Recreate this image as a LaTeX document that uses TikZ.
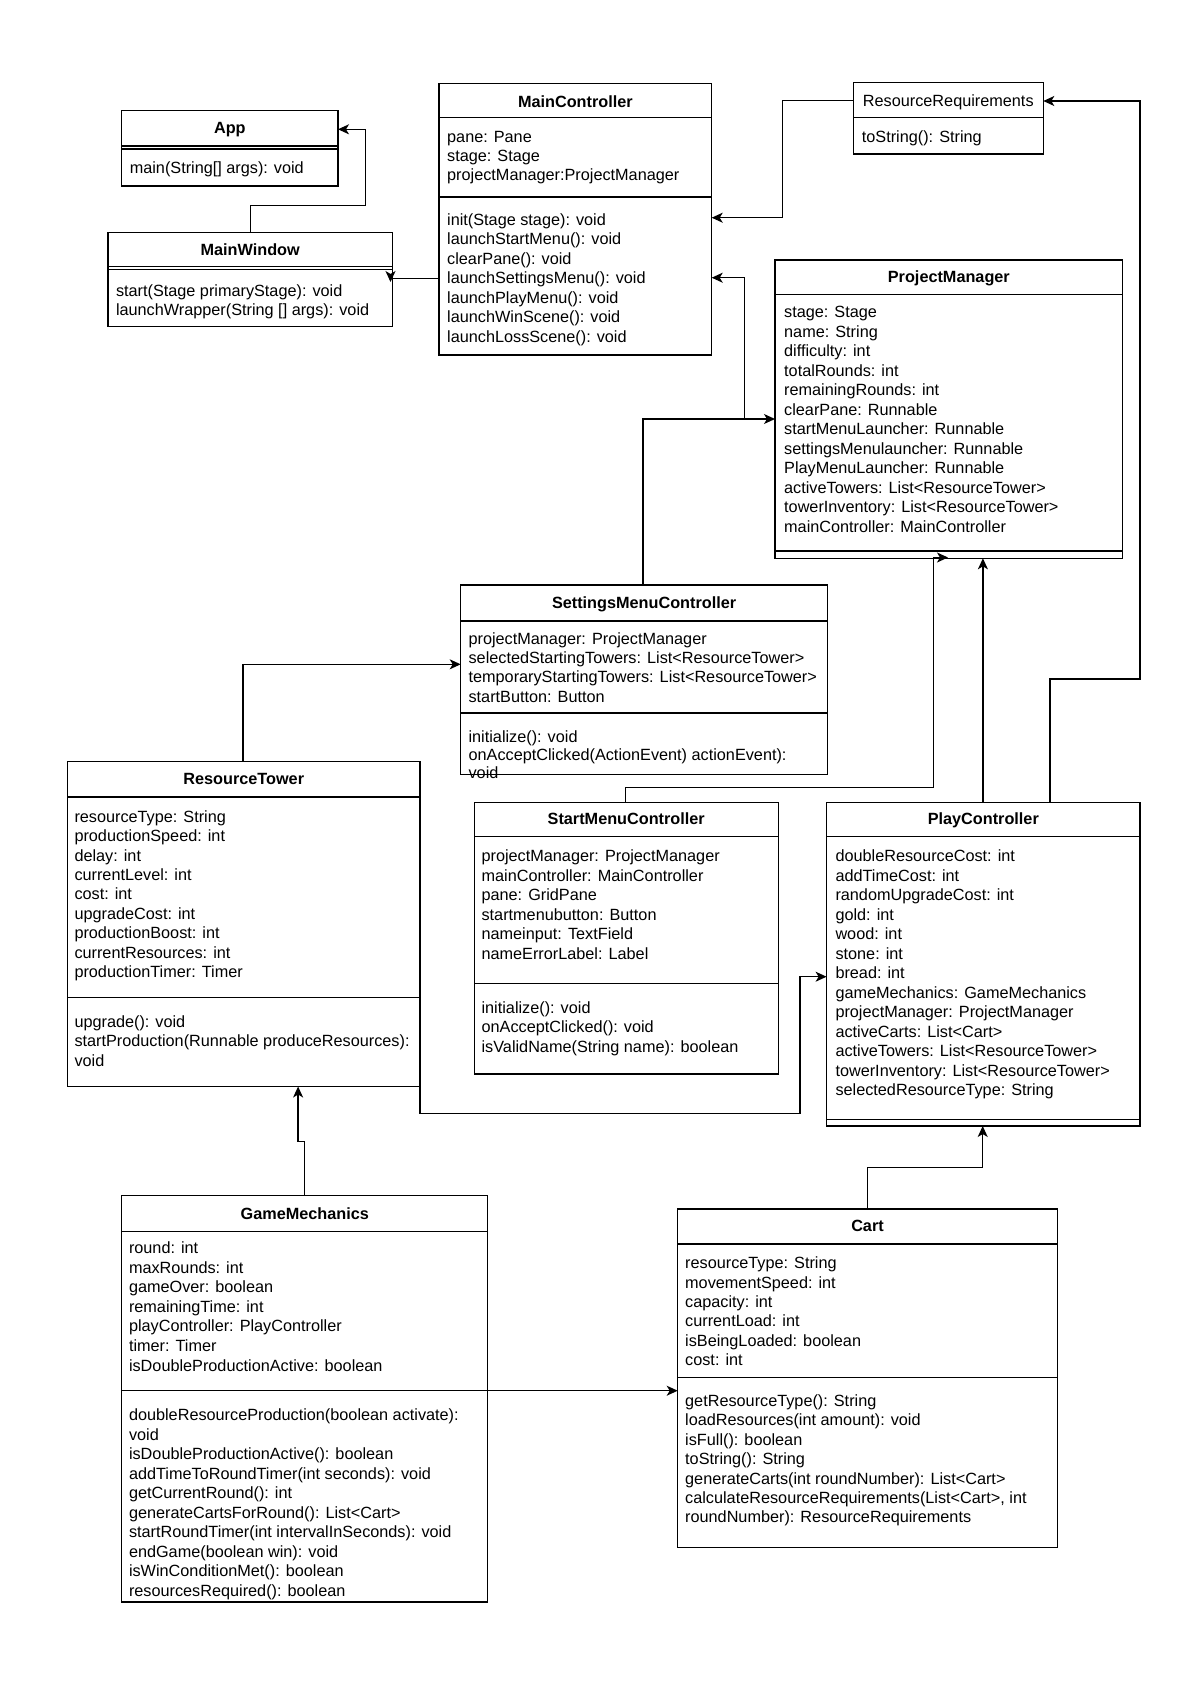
\documentclass[tikz,border=0pt]{standalone}
\usepackage{fontspec}
\setmainfont{Liberation Sans}
\usetikzlibrary{arrows.meta,fit}
\newcommand\umlfont{\fontsize{16.25}{19.5}\selectfont}
\tikzset{
  boxst/.style={draw, line width=1.2pt, fill=white, inner sep=0pt, outer sep=0pt},
  sepline/.style={line width=1.2pt},
  txt/.style={inner sep=0pt, anchor=base west, font=\umlfont},
  ttl/.style={inner sep=0pt, anchor=base, font=\umlfont\bfseries},
  ttlplain/.style={inner sep=0pt, anchor=base, font=\umlfont},
  conn/.style={line width=1.3pt, -{Stealth[length=11pt,width=10pt,inset=3pt]}}
}
% x, first baseline, spacing, name prefix, list of lines
\newcommand\umllines[5]{%
  \foreach \thisline [count=\i from 0] in {#5} {%
    \node[txt] (#4-\i) at (#1, {#2+\i*#3}) {\thisline};}}
\begin{document}
\begin{tikzpicture}[x=1pt,y=-1pt]
\useasboundingbox[fill=white] (0,0) rectangle (1200,1698);

% ---------- App ----------
\node[boxst, fit={(121.7,110.7) (338,186)}] (app) {};
\draw[sepline] (app.west |- 0,146) -- (app.east |- 0,146);
\draw[sepline] (app.west |- 0,148.9) -- (app.east |- 0,148.9);
\node[ttl] (appT) at (app.north |- 0,133.8) {App};
\umllines{129.6}{173.8}{19.5}{appM}{{main(String[] args): void}}

% ---------- MainWindow ----------
\node[boxst, fit={(107.9,232.3) (392.5,326.7)}] (mw) {};
\draw[sepline] (mw.west |- 0,266.7) -- (mw.east |- 0,266.7);
\draw[sepline] (mw.west |- 0,269.6) -- (mw.east |- 0,269.6);
\node[ttl] (mwT) at (mw.north |- 0,255.8) {MainWindow};
\umllines{115.8}{296.5}{18.5}{mwM}{{start(Stage primaryStage): void},{launchWrapper(String [] args): void}}

% ---------- MainController ----------
\node[boxst, fit={(439,83.3) (711.7,355)}] (mc) {};
\draw[sepline] (mc.west |- 0,117.7) -- (mc.east |- 0,117.7);
\draw[sepline] (mc.west |- 0,197) -- (mc.east |- 0,197);
\node[ttl] (mcT) at (mc.north |- 0,107.2) {MainController};
\umllines{447}{142.2}{19.3}{mcA}{{pane: Pane},{stage: Stage},{projectManager:ProjectManager}}
\umllines{447}{225.5}{19.45}{mcM}{{init(Stage stage): void},{launchStartMenu(): void},{clearPane(): void},{launchSettingsMenu(): void},{launchPlayMenu(): void},{launchWinScene(): void},{launchLossScene(): void}}

% ---------- ResourceRequirements ----------
\node[boxst, fit={(853.3,82.7) (1043.3,154)}] (rr) {};
\draw[sepline] (rr.west |- 0,117.7) -- (rr.east |- 0,117.7);
\node[ttlplain] (rrT) at (rr.north |- 0,106.2) {ResourceRequirements};
\umllines{861.7}{142.2}{19.5}{rrM}{{toString(): String}}

% ---------- ProjectManager ----------
\node[boxst, fit={(775,260) (1122.7,558.3)}] (pm) {};
\draw[sepline] (pm.west |- 0,294.3) -- (pm.east |- 0,294.3);
\draw[sepline] (pm.west |- 0,551) -- (pm.east |- 0,551);
\node[ttl] (pmT) at (pm.north |- 0,282.8) {ProjectManager};
\umllines{784}{317.8}{19.5}{pmA}{{stage: Stage},{name: String},{difficulty: int},{totalRounds: int},{remainingRounds: int},{clearPane: Runnable},{startMenuLauncher: Runnable},{settingsMenulauncher: Runnable},{PlayMenuLauncher: Runnable},{activeTowers: List<ResourceTower>},{towerInventory: List<ResourceTower>},{mainController: MainController}}

% ---------- SettingsMenuController ----------
\node[boxst, fit={(460.7,585) (827.5,774.3)}] (sm) {};
\draw[sepline] (sm.west |- 0,621) -- (sm.east |- 0,621);
\draw[sepline] (sm.west |- 0,713) -- (sm.east |- 0,713);
\node[ttl] (smT) at (sm.north |- 0,608.8) {SettingsMenuController};
\umllines{468.4}{644.5}{19.2}{smA}{{projectManager: ProjectManager},{selectedStartingTowers: List<ResourceTower>},{temporaryStartingTowers: List<ResourceTower>},{startButton: Button}}
\umllines{468.4}{742.2}{18.3}{smM}{{initialize(): void},{onAcceptClicked(ActionEvent) actionEvent):},{void}}

% ---------- ResourceTower ----------
\node[boxst, fit={(67.5,761.7) (420,1086.5)}] (rt) {};
\draw[sepline] (rt.west |- 0,797) -- (rt.east |- 0,797);
\draw[sepline] (rt.west |- 0,997.7) -- (rt.east |- 0,997.7);
\node[ttl] (rtT) at (rt.north |- 0,784.5) {ResourceTower};
\umllines{74.3}{822.2}{19.4}{rtA}{{resourceType: String},{productionSpeed: int},{delay: int},{currentLevel: int},{cost: int},{upgradeCost: int},{productionBoost: int},{currentResources: int},{productionTimer: Timer}}
\umllines{74.3}{1027.2}{19.6}{rtM}{{upgrade(): void},{startProduction(Runnable produceResources):},{void}}

% ---------- StartMenuController ----------
\node[boxst, fit={(474.2,802.3) (778.3,1074)}] (smc) {};
\draw[sepline] (smc.west |- 0,836.7) -- (smc.east |- 0,836.7);
\draw[sepline] (smc.west |- 0,983.3) -- (smc.east |- 0,983.3);
\node[ttl] (smcT) at (smc.north |- 0,824.8) {StartMenuController};
\umllines{481.4}{861.5}{19.5}{smcA}{{projectManager: ProjectManager},{mainController: MainController},{pane: GridPane},{startmenubutton: Button},{nameinput: TextField},{nameErrorLabel: Label}}
\umllines{481.4}{1013.2}{19.5}{smcM}{{initialize(): void},{onAcceptClicked(): void},{isValidName(String name): boolean}}

% ---------- PlayController ----------
\node[boxst, fit={(826.6,802.3) (1140,1126)}] (pc) {};
\draw[sepline] (pc.west |- 0,836.7) -- (pc.east |- 0,836.7);
\draw[sepline] (pc.west |- 0,1119.5) -- (pc.east |- 0,1119.5);
\node[ttl] (pcT) at (pc.north |- 0,824.8) {PlayController};
\umllines{835.3}{861.5}{19.5}{pcA}{{doubleResourceCost: int},{addTimeCost: int},{randomUpgradeCost: int},{gold: int},{wood: int},{stone: int},{bread: int},{gameMechanics: GameMechanics},{projectManager: ProjectManager},{activeCarts: List<Cart>},{activeTowers: List<ResourceTower>},{towerInventory: List<ResourceTower>},{selectedResourceType: String}}

% ---------- GameMechanics ----------
\node[boxst, fit={(121.8,1195.4) (487.8,1602)}] (gm) {};
\draw[sepline] (gm.west |- 0,1231.8) -- (gm.east |- 0,1231.8);
\draw[sepline] (gm.west |- 0,1390.7) -- (gm.east |- 0,1390.7);
\node[ttl] (gmT) at (gm.north |- 0,1219.4) {GameMechanics};
\umllines{128.8}{1253.4}{19.6}{gmA}{{round: int},{maxRounds: int},{gameOver: boolean},{remainingTime: int},{playController: PlayController},{timer: Timer},{isDoubleProductionActive: boolean}}
\umllines{128.8}{1420.5}{19.5}{gmM}{{doubleResourceProduction(boolean activate):},{void},{isDoubleProductionActive(): boolean},{addTimeToRoundTimer(int seconds): void},{getCurrentRound(): int},{generateCartsForRound(): List<Cart>},{startRoundTimer(int intervalInSeconds): void},{endGame(boolean win): void},{isWinConditionMet(): boolean},{resourcesRequired(): boolean}}

% ---------- Cart ----------
\node[boxst, fit={(677.7,1209) (1057.3,1547.7)}] (cart) {};
\draw[sepline] (cart.west |- 0,1244) -- (cart.east |- 0,1244);
\draw[sepline] (cart.west |- 0,1377.7) -- (cart.east |- 0,1377.7);
\node[ttl] (cartT) at (cart.north |- 0,1231.5) {Cart};
\umllines{685}{1268.8}{19.3}{cartA}{{resourceType: String},{movementSpeed: int},{capacity: int},{currentLoad: int},{isBeingLoaded: boolean},{cost: int}}
\umllines{685}{1406.5}{19.4}{cartM}{{getResourceType(): String},{loadResources(int amount): void},{isFull(): boolean},{toString(): String},{generateCarts(int roundNumber): List<Cart>},{calculateResourceRequirements(List<Cart>, int},{roundNumber): ResourceRequirements}}

% ---------- connectors ----------
\draw[conn] (mw.north -| 250.2,0) |- (365.6,205.3) |- (app.east |- 0,129.3);
\draw[conn] (mc.west |- 0,278.3) -- (390.5,278.3) -- (390.5,282);
\draw[conn] (rr.west |- 0,100.7) -| (782.3,217.7) -- (mc.east |- 0,217.7);
\draw[conn] (sm.north -| 642.9,0) |- (pm.west |- 0,419);
\draw[conn] (744.6,419) |- (mc.east |- 0,277.7);
\draw[conn] (smc.north -| 625.4,0) |- (933.2,787.3) |- (948,557.5);
\draw[conn] (pc.north -| 982.9,0) -- (pm.south -| 982.9,0);
\draw[conn] (pc.north -| 1050,0) |- (1140,679) |- (rr.east |- 0,101);
\draw[conn] (rt.north -| 242.9,0) |- (sm.west |- 0,664.3);
\draw[conn] (rt.south east) -- (rt.south east |- 0,1113.3) -| (799.9,976.7) -- (pc.west |- 0,976.7);
\draw[conn] (gm.north -| 304.8,0) -- (304.8,1141.4) -| (rt.south -| 298.1,0);
\draw[conn] (gm.east |- 0,1390.7) -- (cart.west |- 0,1390.7);
\draw[conn] (cart.north -| 867.3,0) |- (982.7,1167.7) -- (pc.south -| 982.7,0);
\end{tikzpicture}
\end{document}
